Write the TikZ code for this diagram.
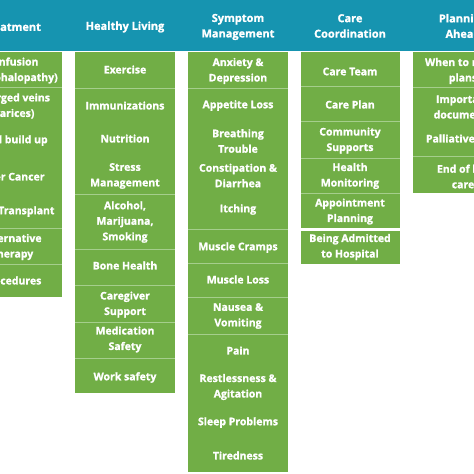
\documentclass[tikz,border=0pt]{standalone}
\usepackage{fontspec}
\setmainfont{Open Sans}[BoldFeatures={FakeBold=1.2}]
\definecolor{hdr}{RGB}{22,148,176}
\definecolor{cell}{RGB}{113,174,70}
\definecolor{sepc}{RGB}{165,206,140}
\tikzset{
  colbox/.style={fill=cell},
  sepline/.style={draw=sepc, line width=0.9pt},
  txt/.style={text=white, font=\fontsize{10.5}{15.5}\selectfont\bfseries, align=center, inner sep=0pt},
  htxt/.style={text=white, font=\fontsize{11}{15.5}\selectfont\bfseries, align=center, inner sep=0pt}
}
\begin{document}
\begin{tikzpicture}[x=1pt,y=-1pt]
\useasboundingbox (0,0) rectangle (474,474);
\clip (0,0) rectangle (474,474);
\fill[white] (0,0) rectangle (474,474);
% header band
\fill[hdr] (0,0) rectangle (474,51);
\node[htxt] (h1) at (12,27) {Treatment};
\node[htxt] (h2) at (125,27) {Healthy Living};
\node[htxt] (h3) at (238,27) {Symptom\\Management};
\node[htxt] (h4) at (350,26) {Care\\Coordination};
\node[htxt] (h5) at (463,26) {Planning\\Ahead};
% column blocks
\fill[colbox] (-38,52) rectangle (62,297);
\fill[colbox] (75,52) rectangle (175,393);
\fill[colbox] (188,52) rectangle (288,472);
\fill[colbox] (301,52) rectangle (400,228);
\fill[colbox] (301,231) rectangle (400,264);
\fill[colbox] (413,52) rectangle (513,193);
% separators
\foreach \y in {87,228,264} \draw[sepline] (-38,\y) -- (62,\y);
\foreach \y in {88,194,249,285,322,358} \draw[sepline] (75,\y) -- (175,\y);
\foreach \y in {88,229,263,297,334} \draw[sepline] (188,\y) -- (288,\y);
\foreach \y in {86,121,158,193} \draw[sepline] (301,\y) -- (400,\y);
\foreach \y in {87,156} \draw[sepline] (413,\y) -- (513,\y);
% column 1
\node[txt] (a1) at (12,70.5) {Confusion\\(Encephalopathy)};
\node[txt] (a2) at (12,106) {Enlarged veins\\(Varices)};
\node[txt] (a3) at (12,140.5) {Fluid build up};
\node[txt] (a4) at (12,176.5) {Liver Cancer};
\node[txt] (a5) at (12,211.5) {Liver Transplant};
\node[txt] (a6) at (12,247) {Alternative\\Therapy};
\node[txt] (a7) at (12,280.5) {Procedures};
% column 2
\node[txt] (b1) at (125,69.5) {Exercise};
\node[txt] (b2) at (125,105.5) {Immunizations};
\node[txt] (b3) at (125,138.5) {Nutrition};
\node[txt] (b4) at (125,176) {Stress\\Management};
\node[txt] (b5) at (125,222) {Alcohol,\\Marijuana,\\Smoking};
\node[txt] (b6) at (125,265.5) {Bone Health};
\node[txt] (b7) at (125,304.5) {Caregiver\\Support};
\node[txt] (b8) at (125,339.5) {Medication\\Safety};
\node[txt] (b9) at (125,377.5) {Work safety};
% column 3
\node[txt] (c1) at (238,71) {Anxiety \&\\Depression};
\node[txt] (c2) at (238,105.5) {Appetite Loss};
\node[txt] (c3) at (238,141) {Breathing\\Trouble};
\node[txt] (c4) at (238,175.5) {Constipation \&\\Diarrhea};
\node[txt] (c5) at (238,209.5) {Itching};
\node[txt] (c6) at (238,247.5) {Muscle Cramps};
\node[txt] (c7) at (238,279.5) {Muscle Loss};
\node[txt] (c8) at (238,316) {Nausea \&\\Vomiting};
\node[txt] (c9) at (238,350.5) {Pain};
\node[txt] (c10) at (238,387) {Restlessness \&\\Agitation};
\node[txt] (c11) at (238,422.5) {Sleep Problems};
\node[txt] (c12) at (238,455.5) {Tiredness};
% column 4
\node[txt] (d1) at (350,71.5) {Care Team};
\node[txt] (d2) at (350,104.5) {Care Plan};
\node[txt] (d3) at (350,140.5) {Community\\Supports};
\node[txt] (d4) at (350,176) {Health\\Monitoring};
\node[txt] (d5) at (350,211.5) {Appointment\\Planning};
\node[txt] (d6) at (350,247) {Being Admitted\\to Hospital};
% column 5
\node[txt] (e1) at (463,71) {When to make\\plans};
\node[txt] (e2) at (463,107) {Important\\documents};
\node[txt] (e3) at (463,138.5) {Palliative care};
\node[txt] (e4) at (463,176.5) {End of life\\care};
\end{tikzpicture}
\end{document}
